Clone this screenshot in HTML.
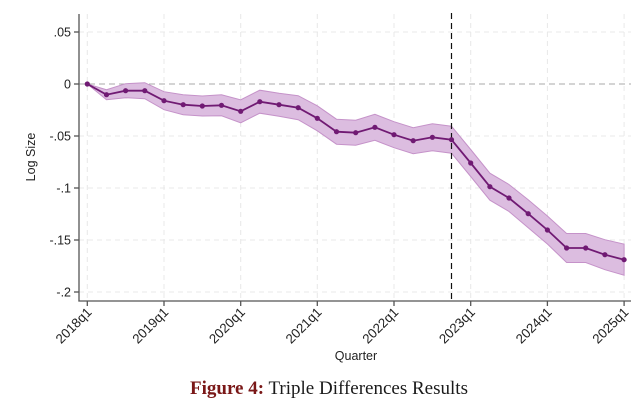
<!DOCTYPE html>
<html><head><meta charset="utf-8"><style>
html,body{margin:0;padding:0;background:#fff;}
svg{display:block;}
</style></head><body>
<svg width="640" height="401" viewBox="0 0 640 401" xmlns="http://www.w3.org/2000/svg">
<rect width="640" height="401" fill="#fff"/>
<!-- grid -->
<g stroke="#e8e8e8" stroke-width="1" stroke-dasharray="5,4" fill="none">
<line x1="79" y1="32" x2="631" y2="32"/>
<line x1="79" y1="136" x2="631" y2="136"/>
<line x1="79" y1="188" x2="631" y2="188"/>
<line x1="79" y1="240" x2="631" y2="240"/>
<line x1="79" y1="292" x2="631" y2="292"/>
<line x1="87.3" y1="14" x2="87.3" y2="301"/>
<line x1="164" y1="14" x2="164" y2="301"/>
<line x1="240.7" y1="14" x2="240.7" y2="301"/>
<line x1="317.3" y1="14" x2="317.3" y2="301"/>
<line x1="394" y1="14" x2="394" y2="301"/>
<line x1="470.7" y1="14" x2="470.7" y2="301"/>
<line x1="547.4" y1="14" x2="547.4" y2="301"/>
<line x1="624.1" y1="14" x2="624.1" y2="301"/>
</g>
<line x1="79" y1="84" x2="631" y2="84" stroke="#aaaaaa" stroke-width="1" stroke-dasharray="6,4"/>
<!-- band -->
<polygon fill="#dcbde0" stroke="#c592c9" stroke-width="1" points="
87.3,84 106.5,89.7 125.6,83.7 144.8,82.7 164.0,91.7 183.2,94.7 202.3,96 221.5,94.8 240.7,99.8 259.8,90.2 279.0,93.2 298.2,95.7 317.3,105.8 336.5,119.2 355.7,120.2 374.9,114.3 394.0,121.7 413.2,127.7 432.4,123.8 451.5,126.2 470.7,149.5 489.9,173.2 509.0,184.5 528.2,199.7 547.4,216 566.6,233.5 585.7,233.5 604.9,239.7 624.1,244.2
624.1,275.2 604.9,269.7 585.7,262.5 566.6,262.5 547.4,244 528.2,227.7 509.0,211.5 489.9,200.2 470.7,176.5 451.5,153.2 432.4,150.8 413.2,153.7 394.0,147.7 374.9,140.3 355.7,145.2 336.5,144.2 317.3,130.8 298.2,119.7 279.0,116.2 259.8,113.2 240.7,122.8 221.5,115.8 202.3,116 183.2,114.7 164.0,109.7 144.8,98.7 125.6,97.7 106.5,99.7"/>
<!-- vertical dashed -->
<line x1="451.5" y1="13" x2="451.5" y2="301" stroke="#111" stroke-width="1.2" stroke-dasharray="6,4"/>
<!-- series -->
<polyline fill="none" stroke="#701a73" stroke-width="1.8" points="87.3,84 106.5,94.7 125.6,90.7 144.8,90.7 164.0,100.7 183.2,104.7 202.3,106 221.5,105.3 240.7,111.3 259.8,101.7 279.0,104.7 298.2,107.7 317.3,118.3 336.5,131.7 355.7,132.7 374.9,127.3 394.0,134.7 413.2,140.7 432.4,137.3 451.5,139.7 470.7,163 489.9,186.7 509.0,198 528.2,213.7 547.4,230 566.6,248 585.7,248 604.9,254.7 624.1,259.7"/>
<g fill="#701a73">
<circle cx="87.3" cy="84" r="2.6"/><circle cx="106.5" cy="94.7" r="2.6"/><circle cx="125.6" cy="90.7" r="2.6"/><circle cx="144.8" cy="90.7" r="2.6"/><circle cx="164.0" cy="100.7" r="2.6"/><circle cx="183.2" cy="104.7" r="2.6"/><circle cx="202.3" cy="106" r="2.6"/><circle cx="221.5" cy="105.3" r="2.6"/><circle cx="240.7" cy="111.3" r="2.6"/><circle cx="259.8" cy="101.7" r="2.6"/><circle cx="279.0" cy="104.7" r="2.6"/><circle cx="298.2" cy="107.7" r="2.6"/><circle cx="317.3" cy="118.3" r="2.6"/><circle cx="336.5" cy="131.7" r="2.6"/><circle cx="355.7" cy="132.7" r="2.6"/><circle cx="374.9" cy="127.3" r="2.6"/><circle cx="394.0" cy="134.7" r="2.6"/><circle cx="413.2" cy="140.7" r="2.6"/><circle cx="432.4" cy="137.3" r="2.6"/><circle cx="451.5" cy="139.7" r="2.6"/><circle cx="470.7" cy="163" r="2.6"/><circle cx="489.9" cy="186.7" r="2.6"/><circle cx="509.0" cy="198" r="2.6"/><circle cx="528.2" cy="213.7" r="2.6"/><circle cx="547.4" cy="230" r="2.6"/><circle cx="566.6" cy="248" r="2.6"/><circle cx="585.7" cy="248" r="2.6"/><circle cx="604.9" cy="254.7" r="2.6"/><circle cx="624.1" cy="259.7" r="2.6"/>
</g>
<!-- axes -->
<g stroke="#555" stroke-width="1.3" fill="none">
<line x1="79" y1="14" x2="79" y2="301.5"/>
<line x1="78.4" y1="301" x2="631" y2="301"/>
<line x1="74" y1="32" x2="79" y2="32"/>
<line x1="74" y1="84" x2="79" y2="84"/>
<line x1="74" y1="136" x2="79" y2="136"/>
<line x1="74" y1="188" x2="79" y2="188"/>
<line x1="74" y1="240" x2="79" y2="240"/>
<line x1="74" y1="292" x2="79" y2="292"/>
<line x1="87.3" y1="301" x2="87.3" y2="306"/>
<line x1="164" y1="301" x2="164" y2="306"/>
<line x1="240.7" y1="301" x2="240.7" y2="306"/>
<line x1="317.3" y1="301" x2="317.3" y2="306"/>
<line x1="394" y1="301" x2="394" y2="306"/>
<line x1="470.7" y1="301" x2="470.7" y2="306"/>
<line x1="547.4" y1="301" x2="547.4" y2="306"/>
<line x1="624.1" y1="301" x2="624.1" y2="306"/>
</g>
<g font-family="Liberation Sans, Arial, sans-serif" font-size="12.5" fill="#222" text-anchor="end">
<text x="71" y="36.5">.05</text>
<text x="71" y="88.5">0</text>
<text x="71" y="140.5">-.05</text>
<text x="71" y="192.5">-.1</text>
<text x="71" y="244.5">-.15</text>
<text x="71" y="296.5">-.2</text>
</g>
<g font-family="Liberation Sans, Arial, sans-serif" font-size="13.3" fill="#222" text-anchor="end">
<text transform="translate(92.5,313) rotate(-45)">2018q1</text>
<text transform="translate(169.2,313) rotate(-45)">2019q1</text>
<text transform="translate(245.9,313) rotate(-45)">2020q1</text>
<text transform="translate(322.5,313) rotate(-45)">2021q1</text>
<text transform="translate(399.2,313) rotate(-45)">2022q1</text>
<text transform="translate(475.9,313) rotate(-45)">2023q1</text>
<text transform="translate(552.6,313) rotate(-45)">2024q1</text>
<text transform="translate(629.3,313) rotate(-45)">2025q1</text>
</g>
<text x="356" y="360" font-family="Liberation Sans, Arial, sans-serif" font-size="12.5" fill="#222" text-anchor="middle">Quarter</text>
<text transform="translate(35,157) rotate(-90)" font-family="Liberation Sans, Arial, sans-serif" font-size="12.5" fill="#222" text-anchor="middle">Log Size</text>
<text x="329" y="394" font-family="Liberation Serif, serif" font-size="19" text-anchor="middle" fill="#1a1a1a"><tspan fill="#7a1818" font-weight="bold">Figure 4:</tspan> Triple Differences Results</text>
</svg>
</body></html>
